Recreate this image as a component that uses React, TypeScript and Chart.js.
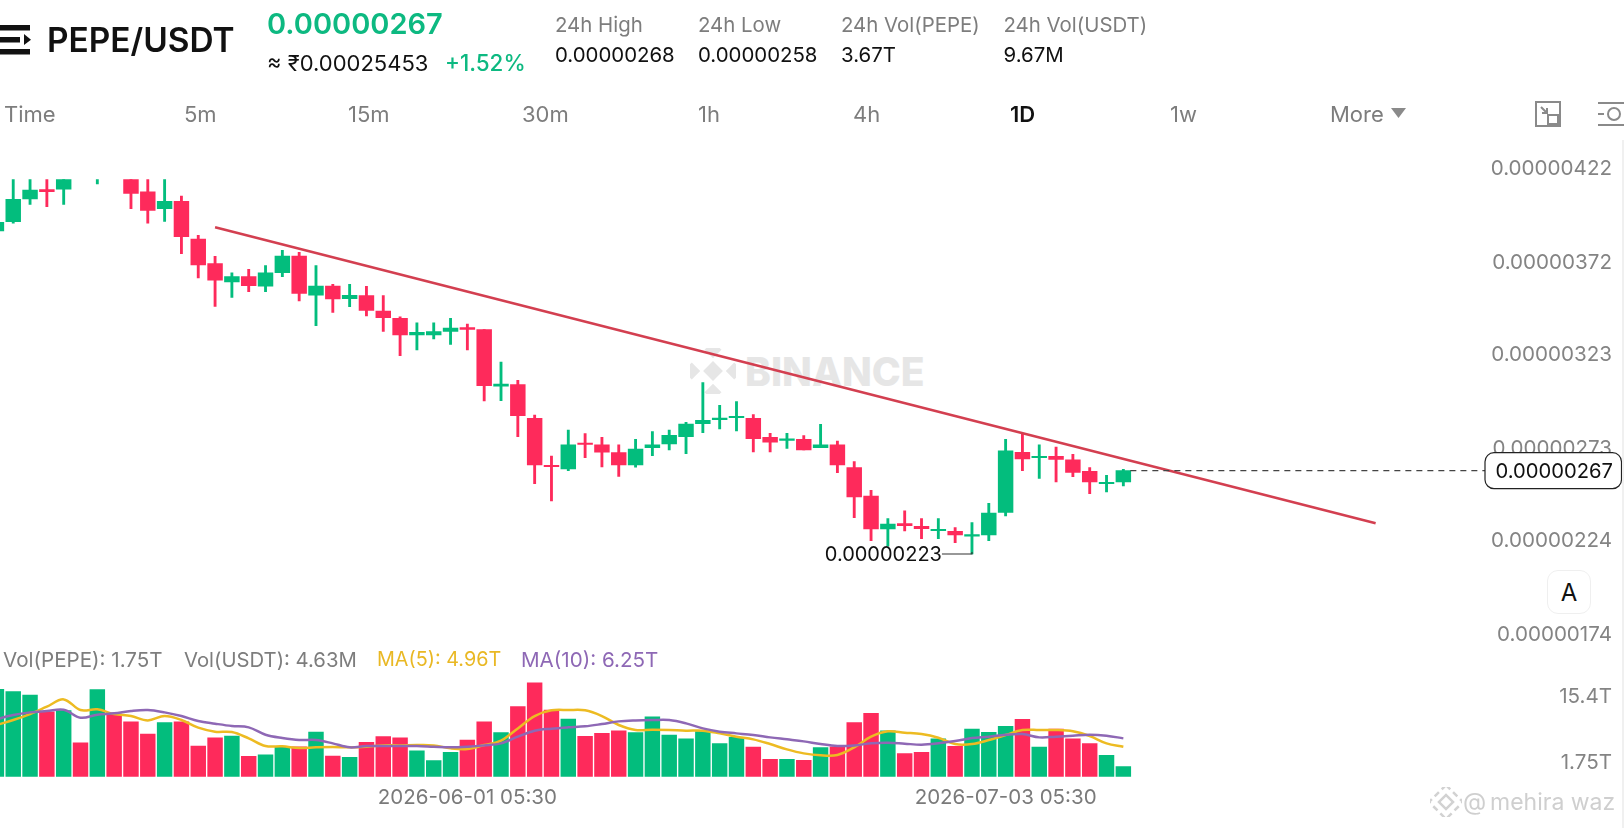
import React, { useEffect, useRef } from "react";
import { Chart, registerables } from "chart.js";

Chart.register(...registerables);

// Prices are in units of 1e-8 USDT. Index 0 is the candle partly off the left edge.
const opens = [394.5,399.5,411.5,416.5,416.7,null,422,null,422,415.4,406.4,410.3,390.2,377.1,367.4,370.2,365.2,372.3,381.2,360.3,365.2,358.5,360.1,351.9,348,339.2,339.2,341.1,343.1,342,312,312.8,294.9,269.9,267.9,281.7,280.7,276.6,270,279.3,281.2,285.1,292,294.1,295.2,294.9,284.8,283.1,283.7,279.3,280.7,268.6,253.5,236,238.8,237.4,235.1,234.7,232.1,232.8,244.8,276.8,273.9,274.6,272.7,266.7,260.1,261];
const highs = [399.1,422,422,422,422,null,422,null,422,422,422,413.1,392.2,381,372.3,374.1,376.1,384.2,383.2,376.1,366.1,366.1,365.1,360.1,348.9,345.7,345.7,348,345,342,324.8,315.1,296.6,274.8,288.6,286.7,284.8,280.7,283.7,287.8,288.6,292.7,313.8,301.8,303.7,296.8,286.9,286.9,285.6,291.7,282.8,271.8,256.6,241.5,245.6,241.5,241.5,236.7,239.4,249.6,283.7,286.9,280.7,279.6,275.7,268.6,264.5,267.7];
const lows = [394.5,398.6,408.7,407.4,408.7,null,419.5,null,406.4,398.6,399.6,382.4,369.5,354.4,359.2,362.2,362.2,370.2,357.3,344.2,351.2,354.3,349.3,341.1,328.2,331.2,337.1,334.2,331.2,304.1,304.3,285.1,260.1,250.9,267,273.9,269,264,268.8,275,278,276.1,287.2,289.2,288.1,277,277,278.9,278,279.3,265.9,242,229.8,226.9,234.9,230.8,230.8,228.7,222.7,229.8,242.9,267,262.9,261,263.8,254.8,255.7,258.9];
const closes = [399.1,411.3,416.3,415.4,422,null,422,null,414.5,405.5,410.3,391.5,376.4,368.4,370.2,365.4,372.2,381.2,361.3,365.2,358.3,360.3,352.3,348.4,339.2,340.6,341,342.9,342.2,312.2,313.1,296.3,270,269.1,280.7,281,276.9,270,278.5,280.7,285.8,291.8,293.8,295,295.9,284,282.1,283.9,278,280.7,270,253,236,238.6,237.8,236.2,235.8,232.8,233,244.5,277.6,273.2,274.6,273,266.1,261,260.8,267];
// Volumes are in units of 1e12 PEPE.
const volumes = [15.06,14.66,14.08,11.2,11.38,5.86,15,10.8,9.48,7.36,9.31,9.48,5.29,6.72,7.01,3.51,3.79,5.17,5.17,7.7,3.56,3.33,5.92,6.9,6.72,4.48,2.76,4.2,6.32,9.48,7.59,12.07,16.2,11.49,9.94,6.95,7.47,7.93,7.59,10.34,7.18,6.55,7.76,5.69,6.78,5.11,2.99,2.99,2.82,5,5.17,9.31,10.92,7.93,3.97,4.2,6.55,5.23,8.22,7.64,8.68,9.89,5.11,8.22,6.55,5.69,3.68,1.75];
const ma5 = [8.91,9.77,10.8,12.07,13.33,11.49,11.61,10.8,10.46,9.71,10.46,9.77,8.45,7.76,7.7,6.61,5.29,5.23,4.94,5.06,5.11,5.06,5.17,5.4,5.4,5.46,5.4,4.89,4.77,5.46,6.21,8.33,10.46,11.44,11.49,11.44,10.46,8.91,8.05,8.1,8.05,7.93,7.93,7.47,6.9,6.44,5.63,4.71,4.02,3.68,3.74,5.06,6.9,7.82,7.59,7.36,6.72,5.63,5.63,6.32,7.18,8.05,8.05,8.05,7.82,7.01,5.75,5.17];
const ma10 = [9.89,10.63,11.09,11.32,11.55,10.17,10.69,10.92,11.32,11.49,11.09,10.46,9.6,9.14,8.74,8.51,7.24,6.67,6.32,6.32,5.75,5.06,5.29,5.29,5.29,5.29,5.17,5.06,5.17,5.4,5.75,6.9,7.93,8.28,8.51,8.68,9.08,9.54,9.71,9.77,9.77,9.2,8.33,7.76,7.47,7.18,6.78,6.44,6.09,5.63,5.29,5.4,5.75,5.86,5.69,5.52,5.75,6.15,6.67,6.9,7.24,7.36,6.78,6.9,7.07,7.24,7.07,6.61];

const firstDay = "2026-05-04";
const slotCount = 89;
const labelledDays = ["2026-06-01", "2026-07-03"];
const labelTime = "05:30";
const priceTicks = [422, 372, 323, 273, 224, 174];
const volumeTickPlaces = [13.74, 2.36];
const volumeTickTexts = ["15.4T", "1.75T"];
const lastPrice = 267;
const lowPrice = 222.7;
const lowText = "0.00000223";
const trendStartIndex = 13;
const trendEndIndex = 82;
const trendStartPrice = 396.5;
const trendEndPrice = 239;

const days: string[] = [];
for (let i = 0; i < slotCount; i++) {
  const d = new Date(firstDay + "T00:00:00Z");
  d.setUTCDate(d.getUTCDate() + i);
  days.push(d.toISOString().slice(0, 10));
}

const GREEN = "#03BD7D";
const RED = "#FE2A5B";
const FONT = "Inter";
const fmt = (v: number) => (v / 1e8).toFixed(8);
const isUp = (i: number) => opens[i] != null && (closes[i] as number) >= (opens[i] as number);
const dirColors = days.map((_, i) => (isUp(i) ? GREEN : RED));
const trend = days.map((_, i) =>
  i === trendStartIndex ? trendStartPrice : i === trendEndIndex ? trendEndPrice : null
);

const annotations = {
  id: "annotations",
  afterDatasetsDraw(chart: any) {
    const { ctx, scales } = chart;
    const y = scales.y.getPixelForValue(lastPrice);
    const lastX = scales.x.getPixelForValue(closes.length - 1) + 7;
    const boxL = 1497;
    const boxR = 1633.5;
    ctx.save();
    ctx.strokeStyle = "#444";
    ctx.lineWidth = 1.4;
    ctx.setLineDash([6, 5]);
    ctx.beginPath();
    ctx.moveTo(lastX, y);
    ctx.lineTo(boxL, y);
    ctx.stroke();
    ctx.setLineDash([]);
    ctx.fillStyle = "#fff";
    ctx.strokeStyle = "#222";
    ctx.lineWidth = 1.2;
    ctx.beginPath();
    ctx.roundRect(boxL, y - 18, boxR - boxL, 36, 9);
    ctx.fill();
    ctx.stroke();
    ctx.fillStyle = "#111";
    ctx.font = `20.2px ${FONT}`;
    ctx.textAlign = "right";
    ctx.textBaseline = "middle";
    ctx.fillText(fmt(lastPrice), 1625, y + 1);

    const lowIndex = lows.indexOf(lowPrice);
    const lx = scales.x.getPixelForValue(lowIndex);
    const ly = scales.y.getPixelForValue(lowPrice);
    ctx.strokeStyle = "#333";
    ctx.lineWidth = 1.1;
    ctx.beginPath();
    ctx.moveTo(lx, ly - 2);
    ctx.lineTo(lx, ly);
    ctx.lineTo(lx - 30, ly);
    ctx.stroke();
    ctx.fillStyle = "#111";
    ctx.font = `20px ${FONT}`;
    ctx.fillText(lowText, lx - 30, ly + 1);
    ctx.restore();
  },
};

const T = ({ x, y, c, s, w, children, style }: any) => (
  <div
    style={{
      position: "absolute",
      left: x,
      top: y,
      transform: "translateY(-50%)",
      color: c,
      fontSize: s,
      fontWeight: w || 400,
      fontFamily: FONT,
      whiteSpace: "nowrap",
      lineHeight: 1,
      ...style,
    }}
  >
    {children}
  </div>
);

const GRAY = "#7d7d7d";
const tabs: [string, number][] = [
  ["Time", 4],
  ["5m", 184],
  ["15m", 348],
  ["30m", 522],
  ["1h", 698],
  ["4h", 853],
  ["1w", 1170],
  ["More", 1330],
];
const stats: [string, string, number][] = [
  ["24h High", "0.00000268", 555],
  ["24h Low", "0.00000258", 698],
  ["24h Vol(PEPE)", "3.67T", 841],
  ["24h Vol(USDT)", "9.67M", 1003.5],
];

export default function App() {
  const ref = useRef<HTMLCanvasElement>(null);
  useEffect(() => {
    const chart = new Chart(ref.current as HTMLCanvasElement, {
      data: {
        labels: days,
        datasets: [
          {
            type: "line",
            label: "Trend",
            data: trend,
            borderColor: "#D33F50",
            borderWidth: 2.5,
            pointRadius: 0,
            spanGaps: true,
            yAxisID: "y",
            order: 0,
          },
          {
            type: "line",
            label: "MA(10)",
            data: ma10,
            borderColor: "#8E68B5",
            borderWidth: 2.5,
            pointRadius: 0,
            tension: 0.35,
            yAxisID: "v",
            order: 1,
          },
          {
            type: "line",
            label: "MA(5)",
            data: ma5,
            borderColor: "#EDBB22",
            borderWidth: 2.5,
            pointRadius: 0,
            tension: 0.35,
            yAxisID: "v",
            order: 2,
          },
          {
            type: "bar",
            label: "Body",
            data: opens.map((o, i) => (o == null || o === closes[i] ? null : [o, closes[i]])),
            backgroundColor: dirColors,
            barThickness: 14.8,
            grouped: false,
            yAxisID: "y",
            order: 3,
          },
          {
            type: "bar",
            label: "Wick",
            data: lows.map((l, i) => (l == null ? null : [l, highs[i]])),
            backgroundColor: dirColors,
            barThickness: 2.2,
            grouped: false,
            yAxisID: "y",
            order: 4,
          },
          {
            type: "bar",
            label: "Volume",
            data: volumes,
            backgroundColor: dirColors,
            barThickness: 14.8,
            grouped: false,
            yAxisID: "v",
            order: 5,
          },
        ],
      } as any,
      options: {
        responsive: false,
        animation: false,
        layout: { padding: { top: 179.3, left: 0, right: 12, bottom: 0 } },
        plugins: { legend: { display: false }, tooltip: { enabled: false } },
        scales: {
          x: {
            type: "category",
            grid: { display: false },
            border: { display: false },
            afterFit: (s: any) => {
              s.height = 51.3;
            },
            ticks: {
              autoSkip: false,
              maxRotation: 0,
              minRotation: 0,
              padding: 1,
              color: "#7a7a7a",
              font: { family: FONT, size: 20.5 },
              callback: (_v: any, i: number) =>
                labelledDays.includes(days[i]) ? `${days[i]} ${labelTime}` : "",
            },
          },
          y: {
            type: "linear",
            position: "right",
            weight: 0,
            min: 104.2,
            max: 422,
            grid: { display: false },
            border: { display: false },
            afterFit: (s: any) => {
              s.width = 127.02;
            },
            afterBuildTicks: (s: any) => {
              s.ticks = priceTicks.map((value) => ({ value }));
            },
            ticks: {
              crossAlign: "far",
              labelOffset: -10.5,
              color: "#848484",
              font: { family: FONT, size: 20.6 },
              callback: (v: any) => fmt(v),
            },
          },
          v: {
            type: "linear",
            position: "right",
            weight: 1,
            min: 0,
            max: 103,
            grid: { display: false },
            border: { display: false },
            afterFit: (s: any) => {
              s.width = 0;
            },
            afterBuildTicks: (s: any) => {
              s.ticks = volumeTickPlaces.map((value) => ({ value }));
            },
            ticks: {
              mirror: true,
              padding: 0,
              color: "#848484",
              font: { family: FONT, size: 20.6 },
              callback: (_v: any, i: number) => volumeTickTexts[i],
            },
          },
        },
      } as any,
      plugins: [annotations],
    } as any);
    return () => chart.destroy();
  }, []);

  return (
    <div style={{ position: "fixed", inset: 0, overflow: "hidden", background: "#fff" }}>
      {/* watermark behind the chart */}
      <svg style={{ position: "absolute", left: 690, top: 348 }} width="46" height="46" viewBox="0 0 46 46">
        <g fill="#e6e6e6" transform="rotate(45 23 23)">
          <rect x="16" y="16" width="14" height="14" />
          <rect x="2" y="2" width="12" height="12" />
          <rect x="32" y="2" width="12" height="12" />
          <rect x="2" y="32" width="12" height="12" />
          <rect x="32" y="32" width="12" height="12" />
        </g>
      </svg>
      <T x={745} y={371} c="#e6e6e6" s={39} w={800}>BINANCE</T>

      <canvas
        ref={ref}
        width={1636}
        height={828}
        style={{ position: "absolute", left: -12, top: 0, width: 1636, height: 828 }}
      />

      {/* header */}
      <svg style={{ position: "absolute", left: 0, top: 24 }} width="32" height="32" viewBox="0 0 32 32">
        <rect x="0" y="1" width="30" height="5.5" fill="#111" />
        <rect x="0" y="13" width="20" height="5.5" fill="#111" />
        <rect x="0" y="25" width="30" height="5.5" fill="#111" />
        <path d="M24 10 L31 15.7 L24 21 Z" fill="#111" />
      </svg>
      <T x={47} y={40.5} c="#111" s={33.4} w={600}>PEPE/USDT</T>
      <T x={267} y={23} c="#0DB981" s={29} w={600}>0.00000267</T>
      <T x={267} y={63} c="#111" s={22}>≈ ₹0.00025453</T>
      <T x={445} y={63} c="#0DB981" s={22.4} w={500}>+1.52%</T>
      {stats.map(([a, b, x]) => (
        <React.Fragment key={a}>
          <T x={x} y={25} c={GRAY} s={20.4}>{a}</T>
          <T x={x} y={55} c="#111" s={20.4}>{b}</T>
        </React.Fragment>
      ))}
      {tabs.map(([t, x]) => (
        <T key={t} x={x} y={114} c={GRAY} s={22}>{t}</T>
      ))}
      <T x={1010} y={114} c="#111" s={22} w={600}>1D</T>
      <svg style={{ position: "absolute", left: 1391, top: 108 }} width="15" height="10" viewBox="0 0 15 10">
        <path d="M0 0 H15 L7.5 10 Z" fill="#8a8a8a" />
      </svg>
      <svg style={{ position: "absolute", left: 1534, top: 100 }} width="28" height="28" viewBox="0 0 28 28" fill="none" stroke="#8a8a8a" strokeWidth="2">
        <rect x="2" y="2" width="24" height="24" />
        <rect x="14" y="15" width="10" height="9" />
        <path d="M7 7 L13 13 M13 8 V13 H8" />
      </svg>
      <svg style={{ position: "absolute", left: 1596, top: 100 }} width="28" height="28" viewBox="0 0 28 28" fill="none" stroke="#8a8a8a" strokeWidth="2">
        <path d="M2 3 H28 M2 25 H28 M2 14 H8" />
        <circle cx="18" cy="14" r="6" />
      </svg>

      {/* volume legend */}
      <T x={3} y={660} c={GRAY} s={20.6}>Vol(PEPE): 1.75T</T>
      <T x={184} y={660} c={GRAY} s={20.3}>Vol(USDT): 4.63M</T>
      <T x={377} y={660} c="#E9B824" s={19.8}>MA(5): 4.96T</T>
      <T x={521} y={660} c="#8E68B5" s={20.6}>MA(10): 6.25T</T>

      {/* auto-scale button */}
      <div
        style={{
          position: "absolute",
          left: 1547,
          top: 570,
          width: 44,
          height: 44,
          boxSizing: "border-box",
          border: "1.5px solid #efefef",
          borderRadius: 11,
          background: "#fff",
          display: "flex",
          alignItems: "center",
          justifyContent: "center",
          fontFamily: FONT,
          fontSize: 24,
          color: "#111",
        }}
      >
        A
      </div>

      {/* corner watermark */}
      <svg style={{ position: "absolute", left: 1430, top: 787 }} width="32" height="30" viewBox="0 0 32 30">
        <g fill="none" stroke="#d2d2d2" strokeWidth="2.5" transform="rotate(45 16 15)">
          <rect x="11" y="10" width="10" height="10" />
          <rect x="4" y="3" width="24" height="24" strokeDasharray="6 4" />
        </g>
      </svg>
      <T x={1463} y={802} c="#cfcfcf" s={24}>@</T>
      <T x={1490} y={802} c="#cfcfcf" s={23}>mehira waz</T>

      <div style={{ position: "absolute", left: 1622, top: 140, width: 2, bottom: 0, background: "#f0f0f0" }} />
    </div>
  );
}
